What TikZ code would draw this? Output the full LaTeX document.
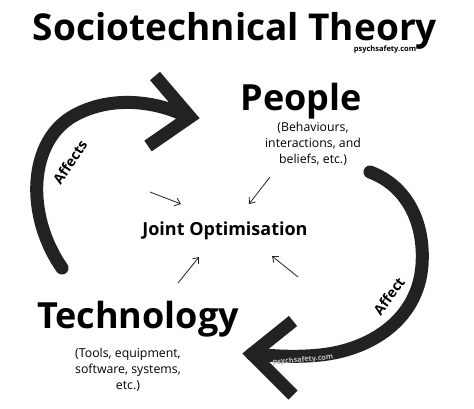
\documentclass[tikz,border=0pt]{standalone}
\usepackage{fontspec}
\setmainfont{Open Sans}
\usetikzlibrary{arrows.meta}
\definecolor{ink}{HTML}{222222}
\begin{document}
\begin{tikzpicture}[x=1pt,y=-1pt,
  bigarrow/.style={draw=ink,line width=13pt,line cap=round},
  headarrow/.style={draw=ink,line width=13pt,line cap=butt,line join=miter},
  thin/.style={draw=ink,line width=0.8pt,-{Straight Barb[length=5pt,width=8pt]}},
  heading/.style={font=\bfseries\fontsize{36}{40}\selectfont,inner sep=0pt},
  desc/.style={font=\fontsize{12.3}{16}\selectfont,align=center,inner sep=0pt},
  lbl/.style={font=\bfseries\fontsize{14}{15}\selectfont,inner sep=0pt}]
\useasboundingbox[fill=white] (0,0) rectangle (474,408);
% title
\node[heading,font=\bfseries\fontsize{37}{42}\selectfont] (title) at (235,31) {Sociotechnical Theory};
\node[font=\bfseries\fontsize{7.5}{8}\selectfont,inner sep=0pt] (wm1) at (385,50) {psychsafety.com};
% left big arrow
\draw[bigarrow] (62,268) .. controls (25,215) and (28,140) .. (75,115) .. controls (110,96) and (155,100) .. (188,117);
\draw[headarrow] (155,76) -- (190,117) -- (148,146);
\node[lbl,rotate=56] (affects) at (70,162) {Affects};
% People
\node[heading] (people) at (301,101) {People};
\node[desc] (pdesc) at (313,144) {(Behaviours,\\interactions, and\\beliefs, etc.)};
% Joint
\node[font=\bfseries\fontsize{18}{20}\selectfont,inner sep=0pt] (joint) at (225,231) {Joint Optimisation};
% Technology
\node[heading] (tech) at (138,319) {Technology};
\node[desc] (tdesc) at (128,370) {(Tools, equipment,\\software, systems,\\etc.)};
% right big arrow
\draw[bigarrow] (370,172) .. controls (405,185) and (425,220) .. (422,265) .. controls (418,320) and (370,350) .. (320,355) .. controls (290,358) and (265,355) .. (252,354);
\draw[headarrow] (293,321) -- (252,354) -- (293,395);
\node[lbl,rotate=54] (affect) at (389,296) {Affect};
\node[font=\bfseries\fontsize{7.3}{8}\selectfont,text=white!75!black,inner sep=0pt,rotate=5] (wm2) at (303,360) {psychsafety.com};
% small arrows
\coordinate (a1s) at (150,192); \coordinate (a1e) at (181,204);
\coordinate (a2s) at (270,177); \coordinate (a2e) at (249,204);
\coordinate (a3s) at (178,283); \coordinate (a3e) at (199,257);
\coordinate (a4s) at (298,277); \coordinate (a4e) at (272,256);
\draw[thin] (a1s) -- (a1e);
\draw[thin] (a2s) -- (a2e);
\draw[thin] (a3s) -- (a3e);
\draw[thin] (a4s) -- (a4e);
\end{tikzpicture}
\end{document}
